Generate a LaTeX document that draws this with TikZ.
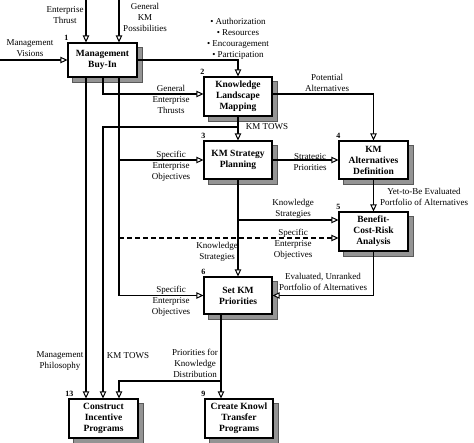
\documentclass[tikz,border=0pt]{standalone}
\usepackage{fontspec}
\setmainfont{Liberation Serif}
\usetikzlibrary{arrows.meta,backgrounds}
\begin{document}
\begin{tikzpicture}[x=1pt,y=-1pt,
  box/.style={draw, line width=1.2pt, fill=white, font=\fontsize{9.5}{11}\selectfont\bfseries, align=center, inner sep=0pt},
  shade/.style={fill=black!42, draw=black!65, line width=0.5pt},
  lbl/.style={font=\fontsize{9}{11}\selectfont, align=center, inner sep=0pt},
  num/.style={font=\fontsize{8}{9}\selectfont\bfseries, inner sep=0.5pt, anchor=south},
  flow/.style={line width=1.6pt, -{Triangle[length=7pt,width=6.5pt,fill=white,line width=1pt]}},
  dflow/.style={flow, dash pattern=on 5pt off 3pt},
]
\useasboundingbox (0,0) rectangle (474,442);

% boxes
\node[box, minimum width=69pt, minimum height=34pt] (b1) at (102.5,60) {Management\\Buy-In};
\node[box, minimum width=68pt, minimum height=39pt] (b2) at (238,96.5) {Knowledge\\Landscape\\Mapping};
\node[box, minimum width=68pt, minimum height=38pt] (b3) at (238,160) {KM Strategy\\Planning};
\node[box, minimum width=69pt, minimum height=38pt] (b4) at (373.5,160) {KM\\Alternatives\\Definition};
\node[box, minimum width=69pt, minimum height=39pt] (b5) at (373.5,231.5) {Benefit-\\Cost-Risk\\Analysis};
\node[box, minimum width=68pt, minimum height=37pt] (b6) at (238,295.5) {Set KM\\Priorities};
\node[box, minimum width=69pt, minimum height=39pt] (b13) at (103.5,418.5) {Construct\\Incentive\\Programs};
\node[box, minimum width=68pt, minimum height=39pt] (b9) at (239,418.5) {Create Knowl\\Transfer\\Programs};

% shadows
\begin{scope}[on background layer]
\foreach \b in {b1,b2,b3,b4,b5,b6,b13,b9}
  \draw[shade] ([xshift=4.5pt,yshift=-4.5pt]\b.south west) rectangle ([xshift=4.5pt,yshift=-4.5pt]\b.north east);
\end{scope}

% numbers
\node[num] (n1) at ([xshift=-1pt,yshift=1pt]b1.north west) {1};
\node[num] (n2) at ([xshift=-1pt,yshift=1pt]b2.north west) {2};
\node[num] (n3) at ([xshift=0pt,yshift=1pt]b3.north west) {3};
\node[num] (n4) at ([xshift=0pt,yshift=1pt]b4.north west) {4};
\node[num] (n5) at ([xshift=0pt,yshift=1pt]b5.north west) {5};
\node[num] (n6) at ([xshift=0pt,yshift=1pt]b6.north west) {6};
\node[num] (n13) at ([xshift=1pt,yshift=1pt]b13.north west) {13};
\node[num] (n9) at ([xshift=-1pt,yshift=1pt]b9.north west) {9};

% helper coordinates
\coordinate (srcET) at (86,0);
\coordinate (srcGKM) at (119,0);
\coordinate (srcMV) at (0,60);
\coordinate (x103) at (103,0);
\coordinate (tows) at (238,127);
\coordinate (ks) at (238,220);
\coordinate (kdist) at (221,381);
\coordinate (b5in2) at ([yshift=-6.5pt]b5.west);

% connectors
\draw[flow] (srcET) -- (srcET |- b1.north);
\draw[flow] (srcGKM) -- (srcGKM |- b1.north);
\draw[flow] (srcMV) -- (b1.west);
\draw[flow] (b1.east) -| (b2.north);
\draw[flow] (b1.south -| x103) |- ([yshift=2.5pt]b2.west);
\draw[flow] (b1.south -| srcET) -- (b13.north -| srcET);
\draw[flow] (b1.south -| srcGKM) |- (b6.west);
\draw[flow] (srcGKM |- b3.west) -- (b3.west);
\draw[dflow] (srcGKM |- b5in2) -- (b5in2);
\draw[flow] (b2.south) -- (b3.north);
\draw[flow] (tows) -| (b13.north -| x103);
\draw[flow] ([yshift=2.5pt]b2.east) -| (b4.north);
\draw[flow] (b3.east) -- (b4.west);
\draw[flow] (b4.south) -- (b5.north);
\draw[flow] (b3.south) -- (b6.north);
\draw[flow] (ks) -- (ks -| b5.west);
\draw[flow] (b5.south) |- (b6.east);
\draw[flow] (b6.south -| kdist) -- (b9.north -| kdist);
\draw[flow] (kdist) -| (b13.north -| srcGKM);

% labels
\node[lbl] (lET) at (65,15) {Enterprise\\Thrust};
\node[lbl] (lGKM) at (145,17) {General\\KM\\Possibilities};
\node[lbl] (lMV) at (30,48.5) {Management\\Visions};
\node[lbl] (lAuth) at (238,39) {\textbullet\ Authorization\\\textbullet\ Resources\\\textbullet\ Encouragement\\\textbullet\ Participation};
\node[lbl] (lGET) at (171,99) {General\\Enterprise\\Thrusts};
\node[lbl] (lPA) at (327,82.5) {Potential\\Alternatives};
\node[lbl] (lTOWS1) at (267,127) {KM TOWS};
\node[lbl] (lSEO1) at (171,166) {Specific\\Enterprise\\Objectives};
\node[lbl] (lSP) at (310,162.5) {Strategic\\Priorities};
\node[lbl] (lYTB) at (424,196.5) {Yet-to-Be Evaluated\\Portfolio of Alternatives};
\node[lbl] (lKS1) at (293,209) {Knowledge\\Strategies};
\node[lbl] (lSEO2) at (293,244.5) {Specific\\Enterprise\\Objectives};
\node[lbl] (lKS2) at (217,251.5) {Knowledge\\Strategies};
\node[lbl] (lEU) at (323,281.5) {Evaluated, Unranked\\Portfolio of Alternatives};
\node[lbl] (lSEO3) at (171,301.5) {Specific\\Enterprise\\Objectives};
\node[lbl] (lMP) at (60,361.5) {Management\\Philosophy};
\node[lbl] (lTOWS2) at (128,356) {KM TOWS};
\node[lbl] (lPKD) at (195,363) {Priorities for\\Knowledge\\Distribution};
\end{tikzpicture}
\end{document}
